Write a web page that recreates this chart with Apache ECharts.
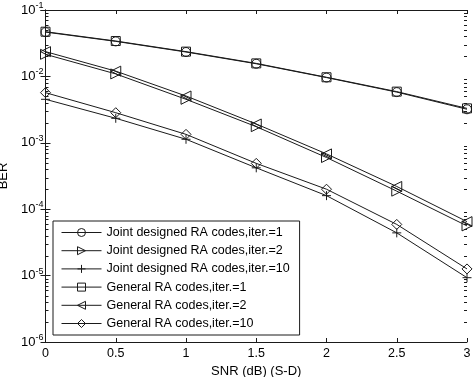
<!DOCTYPE html>
<html>
<head>
<meta charset="utf-8">
<script src="https://cdn.jsdelivr.net/npm/echarts@6/dist/echarts.min.js"></script>
<style>
  html, body { margin: 0; padding: 0; background: #fff; }
  #main { width: 474px; height: 377px; }
</style>
</head>
<body>
<div id="main"></div>
<script>
// SNR (dB) values on the x axis
var snr = [0, 0.5, 1, 1.5, 2, 2.5, 3];

// BER curves
var jointIter1 = [0.0465, 0.0337, 0.0233, 0.0155, 0.0096, 0.0058, 0.0032];
var jointIter2 = [0.0215, 0.0109, 0.00452, 0.00175, 0.00060, 0.000187, 0.000056];
var jointIter10 = [0.00452, 0.00234, 0.00113, 0.00042, 0.00016, 0.000044, 0.0000093];
var generalIter1 = [0.0471, 0.0341, 0.0236, 0.0157, 0.0097, 0.0059, 0.0033];
var generalIter2 = [0.0236, 0.0120, 0.00507, 0.00192, 0.00068, 0.00022, 0.000065];
var generalIter10 = [0.00569, 0.00284, 0.00134, 0.00049, 0.00020, 0.000059, 0.0000126];

var seriesNames = [
  'Joint designed RA codes,iter.=1',
  'Joint designed RA codes,iter.=2',
  'Joint designed RA codes,iter.=10',
  'General RA codes,iter.=1',
  'General RA codes,iter.=2',
  'General RA codes,iter.=10'
];

var font = 'Liberation Sans, Arial, Helvetica, sans-serif';
var plusPath = 'path://M5,0L5,10M0,5L10,5';
var ink = '#1a1a1a';

var chart = echarts.init(document.getElementById('main'));

function mkLine(name, vals, symbol, rotate, size) {
  return {
    name: name,
    type: 'line',
    data: snr.map(function (x, i) { return [x, vals[i]]; }),
    symbol: symbol,
    symbolSize: size,
    symbolRotate: rotate,
    showAllSymbol: true,
    lineStyle: { color: ink, width: 1 },
    itemStyle: { color: 'rgba(0,0,0,0)', borderColor: ink, borderWidth: 1 },
    emphasis: { disabled: true },
    z: 3
  };
}

// minor log ticks 2..9 x 10^k (left and right edges of the box)
var minorVals = [];
for (var k = -6; k <= -2; k++) {
  for (var m = 2; m <= 9; m++) minorVals.push([0, m * Math.pow(10, k)]);
}

var option = {
  backgroundColor: '#fff',
  animation: false,
  textStyle: { fontFamily: font },
  grid: { left: 45.5, right: 7, top: 10, bottom: 35, outerBoundsMode: 'none', containLabel: false },
  legend: {
    orient: 'vertical',
    left: 53,
    top: 221,
    padding: [5, 10, 5, 8],
    itemWidth: 40,
    itemHeight: 10,
    itemGap: 5.2,
    borderColor: ink,
    borderWidth: 1,
    backgroundColor: '#fff',
    itemStyle: { color: 'rgba(0,0,0,0)', borderColor: ink, borderWidth: 1 },
    lineStyle: { color: ink, width: 1 },
    textStyle: { fontFamily: font, fontSize: 12.5, color: '#000' },
    data: seriesNames
  },
  xAxis: [{
    type: 'value',
    min: 0, max: 3, interval: 0.5,
    name: 'SNR (dB) (S-D)',
    nameLocation: 'middle',
    nameGap: 14,
    nameTextStyle: { fontFamily: font, fontSize: 13, color: '#000' },
    axisLine: { lineStyle: { color: ink, width: 1 } },
    axisTick: { inside: true, length: 4, lineStyle: { color: ink } },
    axisLabel: { color: '#000', fontSize: 12.5, fontFamily: font, margin: 5 },
    splitLine: { show: false }
  }, {
    type: 'value',
    position: 'top',
    min: 0, max: 3, interval: 0.5,
    axisLine: { show: true, lineStyle: { color: ink, width: 1 } },
    axisTick: { inside: true, length: 4, lineStyle: { color: ink } },
    axisLabel: { show: false },
    splitLine: { show: false }
  }],
  yAxis: [{
    type: 'log',
    logBase: 10,
    min: 1e-6, max: 0.1,
    splitNumber: 5,
    name: 'BER',
    nameLocation: 'middle',
    nameGap: 35,
    nameTextStyle: { fontFamily: font, fontSize: 13, color: '#000' },
    axisLine: { show: true, lineStyle: { color: ink, width: 1 } },
    axisTick: { inside: true, length: 5, lineStyle: { color: ink } },
    axisLabel: {
      margin: 2,
      formatter: function (v) {
        return '{b|10}{s|' + Math.round(Math.log10(v)) + '}';
      },
      rich: {
        b: { fontSize: 13, fontFamily: font, color: '#000' },
        s: { fontSize: 9, fontFamily: font, color: '#000', verticalAlign: 'top', padding: [0, 0, 9, 0] }
      }
    },
    splitLine: { show: false }
  }, {
    type: 'log',
    logBase: 10,
    position: 'right',
    min: 1e-6, max: 0.1,
    splitNumber: 5,
    axisLine: { show: true, lineStyle: { color: ink, width: 1 } },
    axisTick: { inside: true, length: 5, lineStyle: { color: ink } },
    axisLabel: { show: false },
    splitLine: { show: false }
  }],
  series: [
    mkLine(seriesNames[0], jointIter1, 'circle', 0, 9),
    mkLine(seriesNames[1], jointIter2, 'triangle', -90, 10),
    mkLine(seriesNames[2], jointIter10, plusPath, 0, 9),
    mkLine(seriesNames[3], generalIter1, 'rect', 0, 9),
    mkLine(seriesNames[4], generalIter2, 'triangle', 90, 10),
    mkLine(seriesNames[5], generalIter10, 'diamond', 0, 10),
    {
      type: 'custom',
      silent: true,
      clip: false,
      data: minorVals,
      renderItem: function (params, api) {
        var p0 = api.coord([0, api.value(1)]);
        var p1 = api.coord([3, api.value(1)]);
        var y = Math.round(p0[1]) + 0.5;
        return {
          type: 'group',
          children: [
            { type: 'line', shape: { x1: p0[0], y1: y, x2: p0[0] + 3, y2: y }, style: { stroke: ink, lineWidth: 1 } },
            { type: 'line', shape: { x1: p1[0] - 3, y1: y, x2: p1[0], y2: y }, style: { stroke: ink, lineWidth: 1 } }
          ]
        };
      },
      z: 2
    }
  ]
};

chart.setOption(option);
</script>
</body>
</html>
